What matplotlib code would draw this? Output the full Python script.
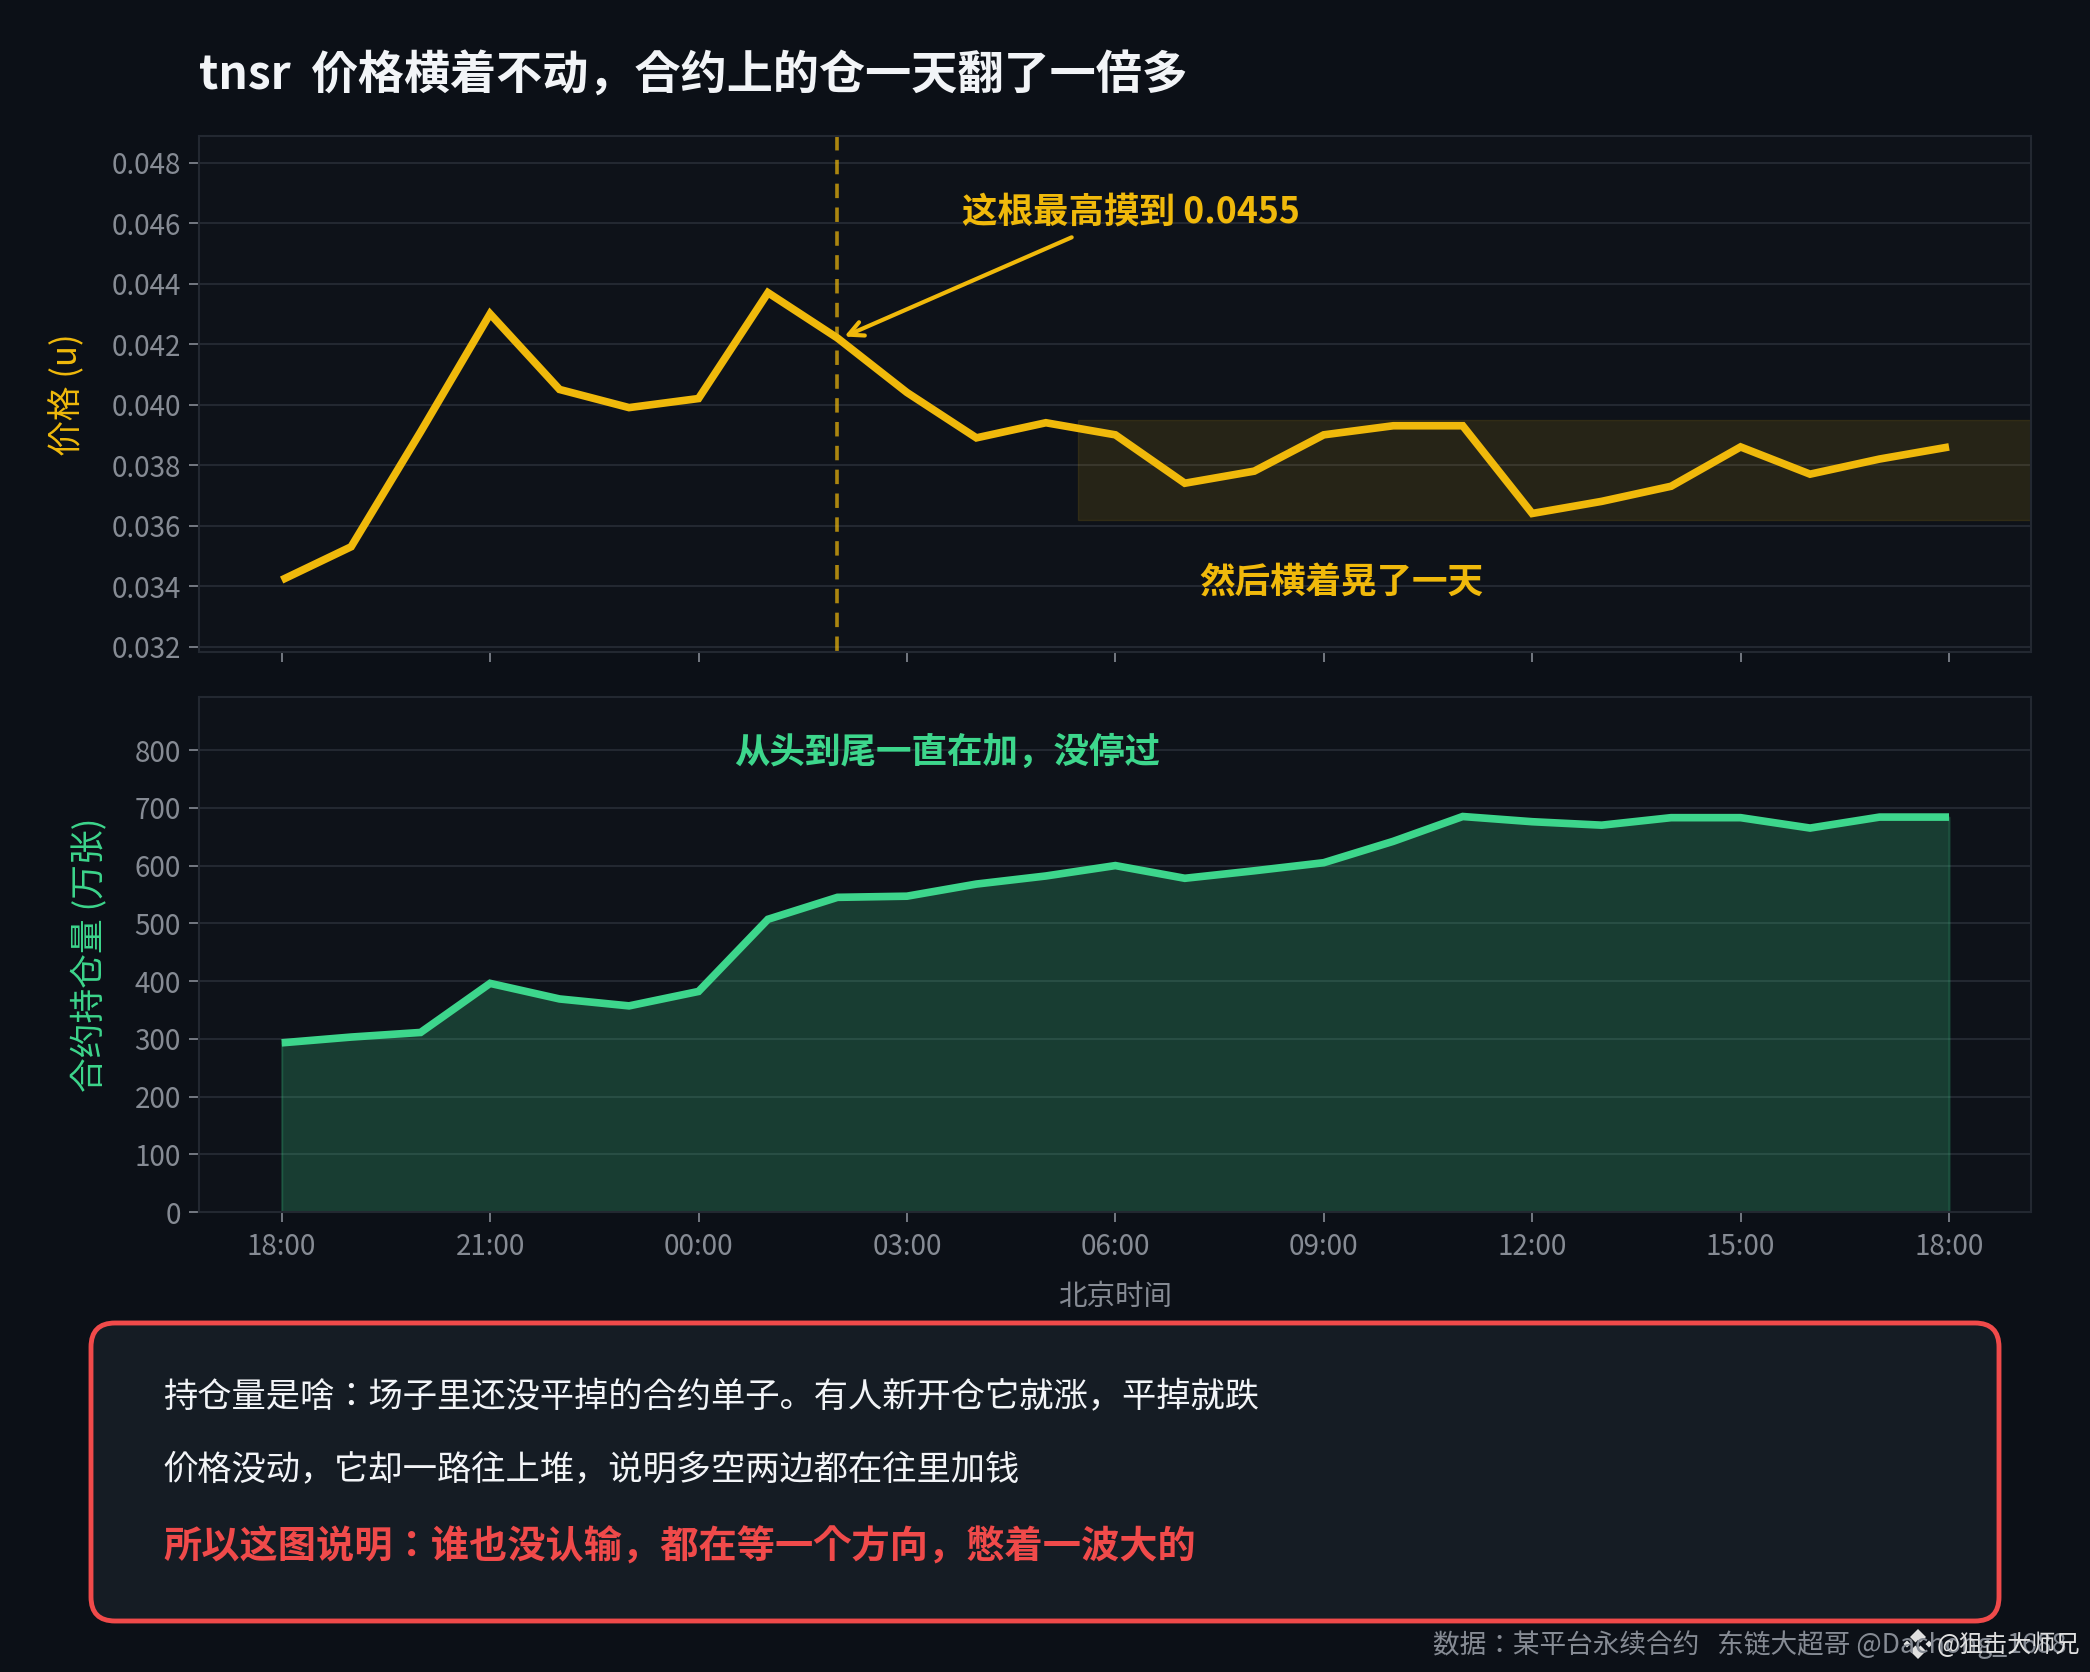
import matplotlib
matplotlib.use("Agg")
import matplotlib.pyplot as plt
from matplotlib.patches import FancyBboxPatch, RegularPolygon

plt.rcParams["font.family"] = ["Noto Sans CJK JP", "DejaVu Sans"]

hours = list(range(25))
price = [0.0342, 0.0353, 0.0391, 0.0430, 0.0405, 0.0399, 0.0402, 0.0437, 0.0422,
         0.0404, 0.0389, 0.0394, 0.0390, 0.0374, 0.0378, 0.0390, 0.0393, 0.0393,
         0.0364, 0.0368, 0.0373, 0.0386, 0.0377, 0.0382, 0.0386]
open_interest = [293, 303, 311, 396, 369, 357, 382, 507, 545, 547, 568, 582, 600,
                 578, 591, 605, 642, 685, 676, 670, 683, 683, 665, 684, 684]
tick_hours = [0, 3, 6, 9, 12, 15, 18, 21, 24]
tick_labels = ["18:00", "21:00", "00:00", "03:00", "06:00", "09:00", "12:00", "15:00", "18:00"]
price_ticks = [0.032, 0.034, 0.036, 0.038, 0.040, 0.042, 0.044, 0.046, 0.048]
oi_ticks = [0, 100, 200, 300, 400, 500, 600, 700, 800]

BG = "#0c1017"
PANEL = "#0e1219"
GRID = "#232831"
GREY = "#868b94"
YELLOW = "#f0b90b"
GREEN = "#3dd68c"
RED = "#f04a4a"
WATERMARK = "#e0e0e0"
W, H = 2090, 1672


def axes_px(left, top, right, bottom):
    return fig.add_axes([left / W, 1 - bottom / H, (right - left) / W, (bottom - top) / H])


def style(ax):
    ax.set_facecolor(PANEL)
    ax.grid(axis="y", color=GRID, lw=1.5)
    ax.set_axisbelow(True)
    for s in ax.spines.values():
        s.set_color(GRID)
        s.set_linewidth(1.5)
    ax.tick_params(colors=GREY, labelsize=20, length=7, width=1.2, pad=6)
    ax.tick_params(axis="x", pad=7.5)
    ax.set_xlim(-1.19, 25.18)
    ax.set_xticks(tick_hours)


fig = plt.figure(figsize=(W / 100, H / 100), dpi=100, facecolor=BG)

ax1 = axes_px(199, 136, 2031, 652)
style(ax1)
ax1.set_ylim(0.03182, 0.04888)
ax1.set_yticks(price_ticks)
ax1.set_yticklabels([f"{v:.3f}" for v in price_ticks])
ax1.set_xticklabels([])
ax1.axhspan(0.0362, 0.0395, xmin=(11.46 + 1.19) / 26.37, xmax=1, facecolor=YELLOW, alpha=0.11,
            edgecolor=YELLOW, lw=1)
ax1.axvline(8, ymin=1, ymax=0, color=YELLOW, alpha=0.7, lw=2.6, ls=(0, (4, 2.6)))
ax1.plot(hours, price, color=YELLOW, lw=5.5, solid_joinstyle="miter", solid_capstyle="butt")
ax1.set_ylabel("价格 (u)", color=YELLOW, fontsize=25)
ax1.yaxis.set_label_coords(-0.062, 0.5)
ax1.annotate("这根最高摸到 0.0455", xy=(8.1, 0.04225), xytext=(12.22, 0.04638),
             color=YELLOW, fontsize=25.6, fontweight="bold", ha="center", va="center",
             arrowprops=dict(arrowstyle="->", color=YELLOW, lw=3, mutation_scale=26,
                             shrinkA=8, shrinkB=0))
ax1.text(15.25, 0.03414, "然后横着晃了一天", color=YELLOW, fontsize=25.6, fontweight="bold",
         ha="center", va="center")

ax2 = axes_px(199, 697, 2031, 1212)
style(ax2)
ax2.set_ylim(0, 892)
ax2.set_yticks(oi_ticks)
ax2.set_xticklabels(tick_labels)
ax2.fill_between(hours, open_interest, 0, color=GREEN, alpha=0.22, lw=1.5)
ax2.plot(hours, open_interest, color=GREEN, lw=5.5, solid_joinstyle="miter", solid_capstyle="butt")
ax2.set_ylabel("合约持仓量 (万张)", color=GREEN, fontsize=25)
ax2.yaxis.set_label_coords(-0.0497, 0.5)
ax2.set_xlabel("北京时间", color=GREY, fontsize=20.5, labelpad=14)
ax2.text(9.58, 796, "从头到尾一直在加，没停过", color=GREEN, fontsize=25.6, fontweight="bold",
         ha="center", va="center")

fig.text(199 / W, 1 - 75 / H, "tnsr  价格横着不动，合约上的仓一天翻了一倍多", color="#f2f4f7",
         fontsize=33.2, fontweight="bold", ha="left", va="center")

# transform=None means pixels from the bottom of the figure
box = FancyBboxPatch((91, H - 1323 - 298), 1908, 298, boxstyle="round,pad=0,rounding_size=24",
                     transform=None, facecolor="#151c24", edgecolor=RED, lw=3.5)
fig.add_artist(box)
fig.text(163 / W, 1 - 1397 / H, "持仓量是啥：场子里还没平掉的合约单子。有人新开仓它就涨，平掉就跌",
         color="#f2f4f7", fontsize=24.7, va="center")
fig.text(163 / W, 1 - 1470 / H, "价格没动，它却一路往上堆，说明多空两边都在往里加钱",
         color="#f2f4f7", fontsize=24.7, va="center")
fig.text(163 / W, 1 - 1547 / H, "所以这图说明：谁也没认输，都在等一个方向，憋着一波大的",
         color=RED, fontsize=27.5, fontweight="bold", va="center")
fig.text(1433 / W, 1 - 1645 / H, "数据：某平台永续合约   东链大超哥 @Dachong_1688", color=GREY,
         fontsize=19.2, va="center")

# watermark sits on top of the source line
icon_x, icon_y = 1918, H - 1644
for dx, dy, size, colour in [(0, 7, 8, WATERMARK), (0, -7, 8, WATERMARK), (-11, 0, 3.5, WATERMARK),
                             (11, 0, 3.5, WATERMARK), (0, 0, 4, BG)]:
    fig.add_artist(RegularPolygon((icon_x + dx, icon_y + dy), 4, radius=size, orientation=0,
                                  transform=None, facecolor=colour, edgecolor="none"))
fig.text(1937 / W, 1 - 1645 / H, "@狙击大师兄", color=WATERMARK, fontsize=17.4, va="center")

fig.savefig("out.png", dpi=100, facecolor=BG)
